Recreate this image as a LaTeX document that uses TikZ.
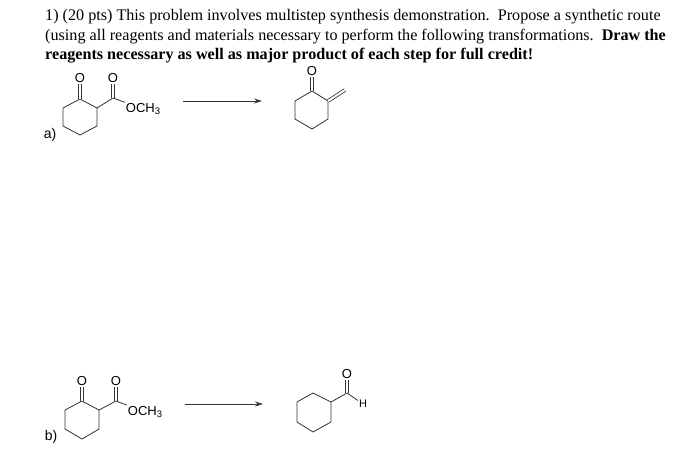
\documentclass[tikz,border=0pt]{standalone}
\usepackage{fontspec}
\setmainfont{Liberation Serif}
\setsansfont{Liberation Sans}
\usetikzlibrary{
    calc,
    arrows.meta
}
\newcommand{\methyl}{OCH\raisebox{-2.5pt}{\fontsize{9.5}{10}\selectfont 3}}
\tikzset{
    prose/.style={anchor=west, font=\fontsize{16.15}{18}\selectfont, inner sep=0pt},
    atom/.style={font=\sffamily\fontsize{13}{15}\selectfont, inner sep=1pt},
    partlabel/.style={font=\sffamily\fontsize{14}{16}\selectfont, inner sep=0pt},
    bond/.style={draw=black!80, line width=0.8pt, line join=round},
    dbond/.style={bond, double=white, double distance=2pt},
    rxn/.style={draw=black!80, line width=0.8pt, -{Stealth[length=8pt,width=5pt]}}
}

\begin{document}
\begin{tikzpicture}[x=1pt, y=-1pt]
        \useasboundingbox (0,0) rectangle (700,471);
        \draw (45,16.5) node[prose](lineone){1) (20 pts) This problem involves multistep synthesis demonstration.\ \ Propose a synthetic route};
        \draw (45,36.5) node[prose](linetwo){(using all reagents and materials necessary to perform the following transformations.\ \ \textbf{Draw the}};
        \draw (45,55.5) node[prose](linethree){\textbf{reagents necessary as well as major product of each step for full credit!}};

        % a) starting material
        \draw (80,99) coordinate(ar1) (97,108) coordinate(ar2) (97,126) coordinate(ar3)
              (80,135) coordinate(ar4) (63,126) coordinate(ar5) (63,108) coordinate(ar6);
        \draw (113,98) coordinate(ac);
        \draw (80,78) node[atom](aoa){O};
        \draw (113,78) node[atom](aob){O};
        \draw (143,109) node[atom](ame){\methyl};
        \draw[bond] (ar1) -- (ar2) -- (ar3) -- (ar4) -- (ar5) -- (ar6) -- cycle;
        \draw[dbond] (ar1) -- (aoa);
        \draw[bond] (ar2) -- (ac);
        \draw[dbond] (ac) -- (aob);
        \draw[bond] (ac) -- (ame);
        \draw (50,135) node[partlabel](alabel){a)};

        % a) arrow
        \draw (183,101) coordinate(aarrs) (262,101) coordinate(aarre);
        \draw[rxn] (aarrs) -- (aarre);

        % a) product
        \draw (312,91) coordinate(ap1) (328,101) coordinate(ap2) (328,119) coordinate(ap3)
              (312,129) coordinate(ap4) (295,119) coordinate(ap5) (295,101) coordinate(ap6);
        \draw (345,90) coordinate(apch);
        \draw (312,71) node[atom](apo){O};
        \draw[bond] (ap1) -- (ap2) -- (ap3) -- (ap4) -- (ap5) -- (ap6) -- cycle;
        \draw[dbond] (ap1) -- (apo);
        \draw[dbond] (ap2) -- (apch);

        % b) starting material
        \draw (82,401) coordinate(br1) (99,410) coordinate(br2) (99,429) coordinate(br3)
              (82,439) coordinate(br4) (65,429) coordinate(br5) (65,410) coordinate(br6);
        \draw (116,401) coordinate(bc);
        \draw (82,381) node[atom](boa){O};
        \draw (116,381) node[atom](bob){O};
        \draw (145,412) node[atom](bme){\methyl};
        \draw[bond] (br1) -- (br2) -- (br3) -- (br4) -- (br5) -- (br6) -- cycle;
        \draw[dbond] (br1) -- (boa);
        \draw[bond] (br2) -- (bc);
        \draw[dbond] (bc) -- (bob);
        \draw[bond] (bc) -- (bme);
        \draw (51,437) node[partlabel](blabel){b)};

        % b) arrow
        \draw (185,404) coordinate(barrs) (263,404) coordinate(barre);
        \draw[rxn] (barrs) -- (barre);

        % b) product
        \draw (313,393) coordinate(bp1) (331,402) coordinate(bp2) (331,422) coordinate(bp3)
              (313,432) coordinate(bp4) (297,422) coordinate(bp5) (297,402) coordinate(bp6);
        \draw (347,393) coordinate(bpc);
        \draw (347,374) node[atom](bpo){O};
        \draw (363,404) node[atom, font=\sffamily\fontsize{11}{13}\selectfont](bph){H};
        \draw[bond] (bp1) -- (bp2) -- (bp3) -- (bp4) -- (bp5) -- (bp6) -- cycle;
        \draw[bond] (bp2) -- (bpc);
        \draw[dbond] (bpc) -- (bpo);
        \draw[bond] (bpc) -- (bph);
    \end{tikzpicture}
\end{document}
